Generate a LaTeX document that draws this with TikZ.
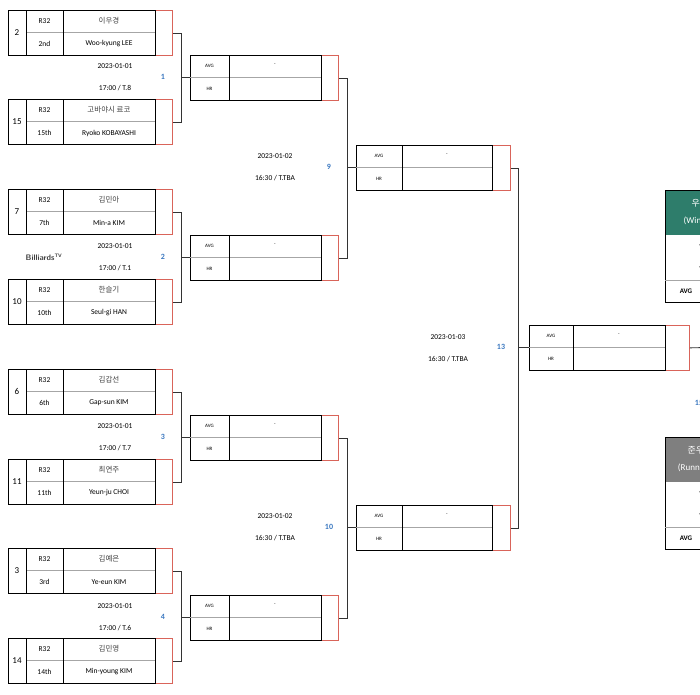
\documentclass[tikz,border=0pt]{standalone}
\usepackage{fontspec}
\setmainfont{Carlito}
\newfontfamily\kr{Noto Sans CJK KR}
\definecolor{redb}{HTML}{D9645A}
\definecolor{blueno}{HTML}{3B78C0}
\definecolor{wingreen}{HTML}{2E7D6B}
\definecolor{rugray}{HTML}{7F7F7F}
\tikzset{
  box/.style={draw=black,line width=0.8pt},
  sep/.style={draw=gray!70,line width=0.8pt},
  redbox/.style={draw=redb,line width=0.8pt,inner sep=0,minimum width=17pt,minimum height=45pt},
  conn/.style={draw=black!80,line width=0.8pt},
  t/.style={font=\fontsize{7.5}{8}\selectfont,inner sep=0},
  ts/.style={font=\fontsize{5}{6}\selectfont,inner sep=0},
  num/.style={font=\bfseries\fontsize{8}{9}\selectfont,text=blueno,inner sep=0},
}
% #1 name #2 ytop #3 seed #4 korean #5 rank #6 english
\newcommand\myplayer[6]{
  \node[redbox,anchor=north west] (#1r) at (155,#2) {};
  \draw[box] (8,#2) rectangle (155,#2+45);
  \draw[sep] (26,#2+22.5) -- (155,#2+22.5);
  \draw[box] (26,#2) -- (26,#2+45) (63,#2) -- (63,#2+45);
  \node[t,font=\fontsize{9}{10}\selectfont] (#1s) at (17,#2+22.5) {#3};
  \node[t] (#1a) at (44.5,#2+11) {R32};
  \node[t] (#1b) at (44.5,#2+34) {#5};
  \node[t,font=\kr\fontsize{7.5}{8}\selectfont,text=black!75] (#1k) at (109,#2+11) {#4};
  \node[t] (#1e) at (109,#2+34) {#6};
}
% #1 name #2 ytop #3 x0 #4 x1 #5 x2 #6 x3
\newcommand\mymatch[6]{
  \node[draw=redb,line width=0.8pt,inner sep=0,minimum height=45pt,minimum width=#6pt-#5pt,anchor=north west] (#1r) at (#5,#2) {};
  \coordinate (#1) at (#3,#2+22.5);
  \draw[box] (#3,#2) rectangle (#5,#2+45);
  \draw[sep] (#3,#2+22.5) -- (#5,#2+22.5);
  \draw[box] (#4,#2) -- (#4,#2+45);
  \node[ts] (#1a) at ({(#3+#4)/2},#2+11) {AVG};
  \node[ts] (#1h) at ({(#3+#4)/2},#2+34) {HR};
  \node[ts] (#1d) at ({(#4+#5)/2},#2+10) {-};
}
\begin{document}
\begin{tikzpicture}[x=1pt,y=-1pt]
\useasboundingbox (0,0) rectangle (700,694);
\clip (0,0) rectangle (700,694);
\myplayer{p1}{10}{2}{이우경}{2nd}{Woo-kyung LEE}
\myplayer{p2}{99}{15}{고바야시 료코}{15th}{Ryoko KOBAYASHI}
\myplayer{p3}{189}{7}{김민아}{7th}{Min-a KIM}
\myplayer{p4}{279}{10}{한슬기}{10th}{Seul-gi HAN}
\myplayer{p5}{369}{6}{김갑선}{6th}{Gap-sun KIM}
\myplayer{p6}{459}{11}{최연주}{11th}{Yeun-ju CHOI}
\myplayer{p7}{548}{3}{김예은}{3rd}{Ye-eun KIM}
\myplayer{p8}{638}{14}{김민영}{14th}{Min-young KIM}
\mymatch{m1}{55}{190}{229}{321}{338}
\mymatch{m2}{235}{190}{229}{321}{338}
\mymatch{m3}{415}{190}{229}{321}{338}
\mymatch{m4}{595}{190}{229}{321}{338}
\mymatch{m9}{145}{356}{402}{492}{510}
\mymatch{m10}{505}{356}{402}{492}{510}
\mymatch{m13}{325}{529}{573}{665}{689}
% connectors
\foreach \a/\b/\m in {p1/p2/m1,p3/p4/m2,p5/p6/m3,p7/p8/m4}{
  \draw[conn] (\a r.east) -- ++(9,0) |- (\m);
  \draw[conn] (\b r.east) -- ++(9,0) |- (\m);
}
\foreach \a/\b/\m in {m1/m2/m9,m3/m4/m10}{
  \draw[conn] (\a r.east) -- ++(9,0) |- (\m);
  \draw[conn] (\b r.east) -- ++(9,0) |- (\m);
}
\draw[conn] (m9r.east) -- ++(8,0) |- (m13);
\draw[conn] (m10r.east) -- ++(8,0) |- (m13);
\coordinate (fin) at (720,347);
\draw[conn] (m13r.east) -- (fin);
% labels
\foreach \y/\n/\tm in {77/1/T.8,257/2/T.1,437/3/T.7,617/4/T.6}{
  \node[t] (d\n) at (115,\y-11) {2023-01-01};
  \node[t] (e\n) at (115,\y+11) {17:00 / \tm};
  \node[num] (n\n) at (163,\y) {\n};
}
\foreach \y/\n in {167/9,527/10}{
  \node[t] (d\n) at (275,\y-11) {2023-01-02};
  \node[t] (e\n) at (275,\y+11) {16:30 / T.TBA};
  \node[num] (n\n) at (329,\y) {\n};
}
\node[t] (d13) at (448,337) {2023-01-03};
\node[t] (e13) at (448,359) {16:30 / T.TBA};
\node[num] (n13) at (501,347) {13};
\node[num] (n15) at (699,403) {15};
\node[font=\bfseries\sffamily\fontsize{8}{9}\selectfont,text=black!75] (logo) at (44,257) {Billiards\textsuperscript{\tiny TV}};
% winner / runner-up
\foreach \y/\c/\k/\e/\nm in {190/wingreen/우승/(Winner)/w,437/rugray/준우승/(Runner-up)/r}{
  \fill[\c] (665,\y) rectangle (780,\y+45);
  \draw[box] (665,\y) rectangle (780,\y+112);
  \draw[sep] (665,\y+90) -- (780,\y+90);
  \node[text=white,font=\kr\fontsize{9}{10}\selectfont,inner sep=0] (\nm k) at (700,\y+13) {\k};
  \node[text=white,font=\fontsize{9}{10}\selectfont,inner sep=0] (\nm e) at (700,\y+31) {\e};
  \node[t] (\nm 1) at (700,\y+56) {-};
  \node[t] (\nm 2) at (700,\y+78) {-};
  \node[t,font=\bfseries\fontsize{7}{8}\selectfont] (\nm 3) at (686,\y+101) {AVG};
}
\end{tikzpicture}
\end{document}
